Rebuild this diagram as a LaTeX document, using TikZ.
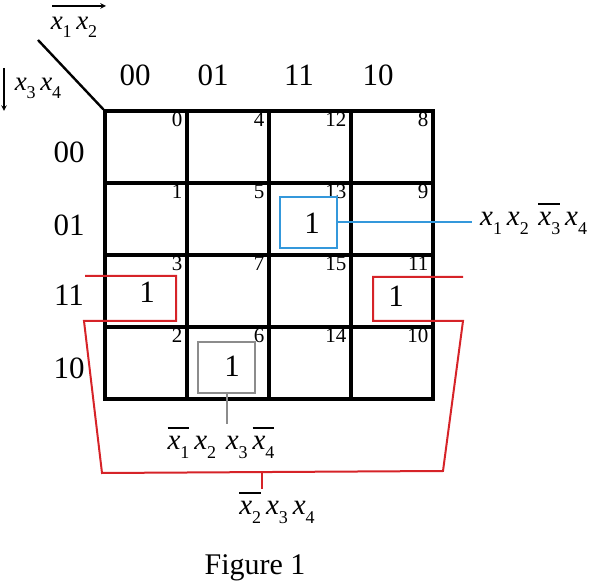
\documentclass[tikz,border=0pt]{standalone}
\usepackage{fontspec}
\usepackage{tikz}
\setmainfont{Liberation Serif}
\usetikzlibrary{arrows,positioning,calc}
\definecolor{kblue}{RGB}{52,152,219}
\definecolor{kred}{RGB}{214,35,40}
\definecolor{kgray}{RGB}{140,140,140}
\newcommand{\xv}[1]{\textit{x}\raisebox{-0.3em}{\fontsize{18}{18}\selectfont #1}}
\newcommand{\nx}[1]{\leavevmode\vbox{\hrule height 2pt\kern 7pt\hbox{\xv{#1}}}}

\begin{document}
\begin{tikzpicture}[x=1pt, y=-1pt,
    cell/.style={draw, line width=3.2pt, minimum width=82pt, minimum height=72pt, inner sep=0pt},
    cellnum/.style={font=\fontsize{21}{21}\selectfont, inner xsep=6pt, inner ysep=3pt, anchor=north east},
    head/.style={font=\fontsize{31}{33}\selectfont},
    one/.style={font=\fontsize{31}{33}\selectfont},
    term/.style={font=\fontsize{29}{31}\selectfont, inner sep=3pt},
    loopbox/.style={draw, line width=2pt, minimum width=57pt, minimum height=51pt, inner sep=0pt},
    arrow/.style={->, >=stealth, line width=1.5pt}
]
    \useasboundingbox (0,0) rectangle (590,585);

    % map cells
    \node[cell, label={[cellnum]north east:0}] (m0) at (146,147) {};
    \node[cell, label={[cellnum]north east:4}] (m4) at (228,147) {};
    \node[cell, label={[cellnum]north east:12}] (m12) at (310,147) {};
    \node[cell, label={[cellnum]north east:8}] (m8) at (392,147) {};
    \node[cell, label={[cellnum]north east:1}] (m1) at (146,219) {};
    \node[cell, label={[cellnum]north east:5}] (m5) at (228,219) {};
    \node[cell, label={[cellnum]north east:13}] (m13) at (310,219) {};
    \node[cell, label={[cellnum]north east:9}] (m9) at (392,219) {};
    \node[cell, label={[cellnum]north east:3}] (m3) at (146,291) {};
    \node[cell, label={[cellnum]north east:7}] (m7) at (228,291) {};
    \node[cell, label={[cellnum]north east:15}] (m15) at (310,291) {};
    \node[cell, label={[cellnum]north east:11}] (m11) at (392,291) {};
    \node[cell, label={[cellnum]north east:2}] (m2) at (146,363) {};
    \node[cell, label={[cellnum]north east:6}] (m6) at (228,363) {};
    \node[cell, label={[cellnum]north east:14}] (m14) at (310,363) {};
    \node[cell, label={[cellnum]north east:10}] (m10) at (392,363) {};

    % headings
    \node[head] (c00) at (135,75) {00};
    \node[head] (c01) at (213,75) {01};
    \node[head] (c11) at (299,75) {11};
    \node[head] (c10) at (378,75) {10};
    \node[head] (r00) at (69,152) {00};
    \node[head] (r01) at (69,225) {01};
    \node[head] (r11) at (69,295) {11};
    \node[head] (r10) at (69,368) {10};

    \coordinate (dtop) at (38,40);
    \draw[line width=2.4pt] (dtop) -- (m0.north west);

    \node[term, font=\fontsize{27}{29}\selectfont] (x12) at (74,27) {\xv{1}\,\xv{2}};
    \coordinate (a1) at (52,6);
    \coordinate (a2) at (106,6);
    \draw[arrow] (a1) -- (a2);
    \node[term, font=\fontsize{27}{29}\selectfont] (x34) at (38,88) {\xv{3}\,\xv{4}};
    \coordinate (a3) at (4,68);
    \coordinate (a4) at (4,111);
    \draw[arrow] (a3) -- (a4);

    % ones
    \node[one] (o13) at (312,223) {1};
    \node[one] (o3) at (147,292) {1};
    \node[one] (o11) at (396,296) {1};
    \node[one] (o6) at (232,366) {1};

    % groups
    \node[loopbox, draw=kblue] (b13) at (308.5,222.5) {};
    \node[term, anchor=west, inner xsep=8pt] (f13) at (472,219) {\xv{1}\,\xv{2}\,\,\nx{3}\,\xv{4}};
    \draw[kblue, line width=2pt] (b13.east) -- (b13.east -| f13.west);

    \node[loopbox, draw=kgray] (g6) at (226.5,367.5) {};
    \node[term, anchor=north] (f6) at (221,424) {\nx{1}\,\xv{2}\,\,\xv{3}\,\nx{4}};
    \draw[kgray, line width=2pt] (g6.south) -- (g6.south |- f6.north);

    \coordinate (r1) at (85,276);
    \coordinate (r2) at (176,276);
    \coordinate (r3) at (176,321);
    \coordinate (r4) at (84,321);
    \coordinate (r5) at (102,473);
    \coordinate (r6) at (443,471);
    \coordinate (r7) at (463,321);
    \coordinate (r8) at (373,321);
    \coordinate (r9) at (373,277);
    \coordinate (r10) at (463,277);
    \draw[kred, line width=2pt] (r1) -- (r2) -- (r3) -- (r4) -- (r5) -- (r6) -- (r7) -- (r8) -- (r9) -- (r10);
    \coordinate (rs) at (262,472);
    \node[term, anchor=north] (f23) at (277,489) {\nx{2}\,\xv{3}\,\xv{4}};
    \draw[kred, line width=2pt] (rs) -- (rs |- f23.north);

    \node[font=\fontsize{30}{32}\selectfont] (cap) at (255,568) {Figure 1};
\end{tikzpicture}
\end{document}
